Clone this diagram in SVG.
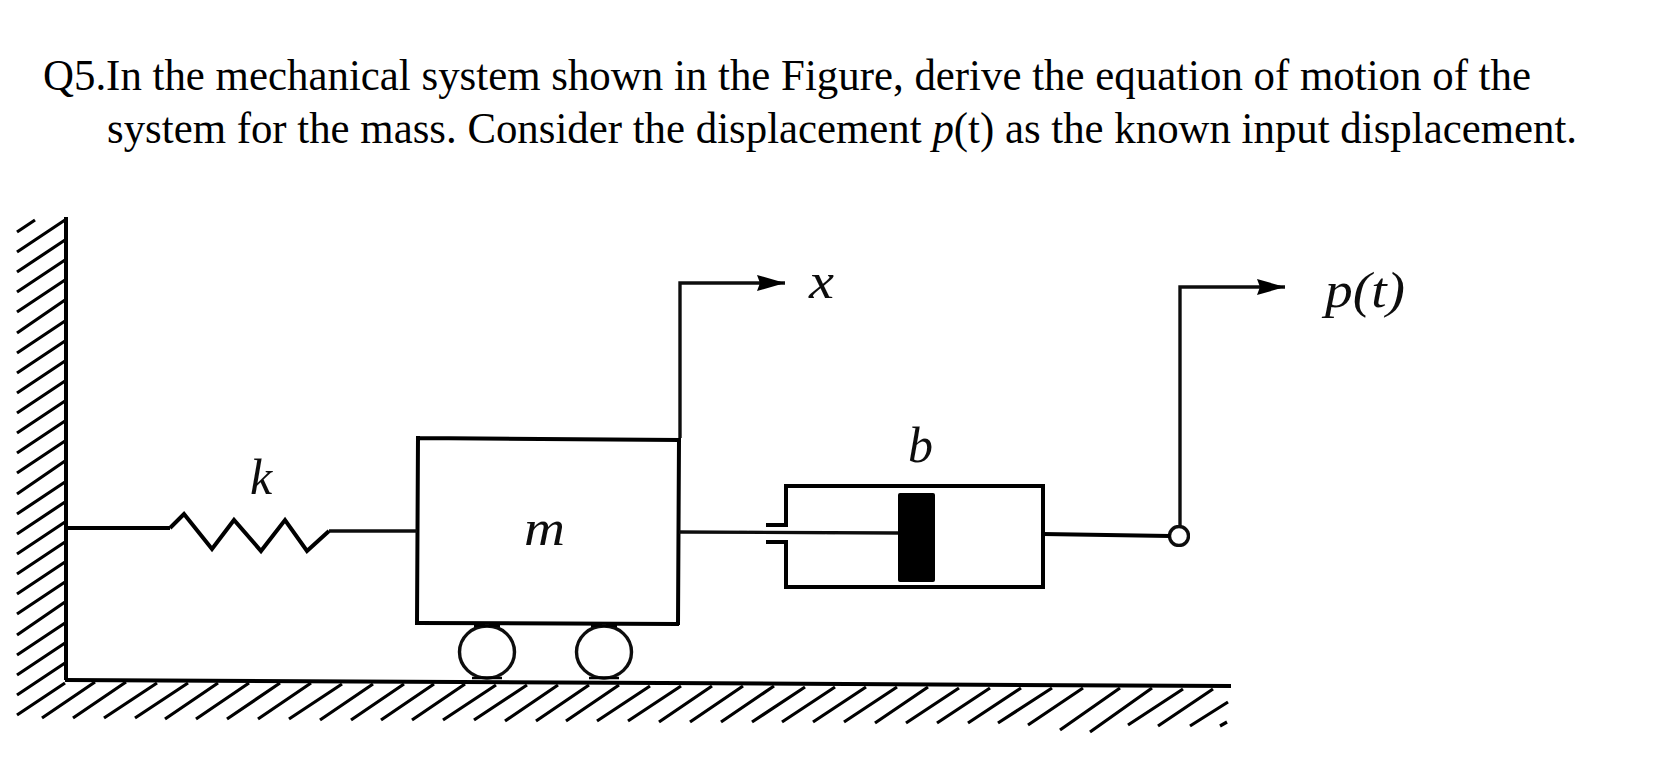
<svg xmlns="http://www.w3.org/2000/svg" width="1675" height="766" viewBox="0 0 1675 766">
<style>
.q{font-family:"Liberation Serif","Times New Roman",serif;font-size:44.5px;fill:#000}
.l{font-family:"Liberation Serif","Times New Roman",serif;font-size:50px;font-style:italic;fill:#111}
.s{fill:none;stroke:#000;stroke-width:4;stroke-linejoin:miter}
.t{fill:none;stroke:#111;stroke-width:3.4}
.h{fill:none;stroke:#000;stroke-width:3.2}
.f{filter:url(#soft)}
.stub{fill:none;stroke:#000;stroke-width:2.6}
</style>
<defs>
<filter id="soft" x="-5%" y="-5%" width="110%" height="110%"><feGaussianBlur stdDeviation="0.6"/></filter>
<marker id="arrow" markerUnits="userSpaceOnUse" markerWidth="32" markerHeight="18" refX="28" refY="8" orient="auto" overflow="visible">
<path d="M0 0L28 8L0 16L3 8Z" fill="#000"/>
</marker>
</defs>
<rect width="1675" height="766" fill="#fff"/>
<g id="question">
<text class="q" x="43" y="90" textLength="1488" lengthAdjust="spacingAndGlyphs">Q5.In the mechanical system shown in the Figure, derive the equation of motion of the</text>
<text class="q" x="107" y="143" textLength="1470" lengthAdjust="spacingAndGlyphs">system for the mass. Consider the displacement <tspan font-style="italic">p</tspan>(t) as the known input displacement.</text>
</g>
<g id="wall" class="f">
<path class="s" d="M66 217V680"/>
<path class="h" d="M35 220L17 232M65 220L17 252M65 240L17 272M65 260L17 292M65 280L17 312M65 300L17 333M65 321L17 353M65 341L17 373M65 361L17 393M65 381L17 413M65 401L17 433M65 421L17 453M65 441L17 473M65 461L17 494M65 482L17 514M65 502L17 534M65 522L17 554M65 542L17 574M65 562L17 594M65 582L17 614M65 602L17 635M65 623L17 655M65 643L17 675M65 663L17 695M65 683L17 715"/>
</g>
<g id="ground" class="f">
<path class="s" d="M65 680L1231 686"/>
<path class="h" d="M95 682L42 718M126 682L73 718M157 683L104 718M188 683L135 718M218 683L165 719M249 683L196 719M280 683L227 719M311 683L258 719M342 684L289 719M373 684L320 720M404 684L351 720M434 684L381 720M465 684L412 720M496 685L443 720M527 685L474 720M558 685L505 721M589 685L536 721M619 685L566 721M650 686L597 721M681 686L628 721M712 686L659 722M743 686L690 722M774 686L721 722M805 687L752 722M835 687L782 722M866 687L813 722M897 687L844 722M928 687L875 723M959 688L906 723M990 688L937 723M1021 688L968 723M1052 688L998 723M1083 688L1028 725M1120 688L1060 730M1152 688L1090 732M1183 689L1128 725M1213 689L1158 726M1228 702L1190 726M1227 722L1220 726"/>
</g>
<g id="mass" class="f">
<path class="s" d="M417 438L680 440M418 436L417 624M415 623L679 624M679 438L678 625"/>
<text class="l" x="524" y="545" textLength="41" lengthAdjust="spacingAndGlyphs">m</text>
</g>
<g id="wheels" class="f">
<ellipse class="t" cx="487" cy="652" rx="27.5" ry="26"/>
<ellipse class="t" cx="604" cy="652" rx="27.5" ry="26"/>
<path class="stub" d="M474 626H500M591 626H617M472 678H502M589 678H619"/>
</g>
<g id="spring" class="f">
<path class="s" d="M170 528L184 514L212 549L234 520L261 551L285 520L307 551L329 531"/>
<text class="l" x="250" y="494">k</text>
</g>
<g id="damper" class="f">
<path class="s" d="M766 525H786V486H1043V587H786V542H766"/>
<rect x="898" y="493" width="37" height="89" rx="2" fill="#000"/>
<text class="l" x="908" y="462">b</text>
</g>
<g id="input-node" class="f">
<circle cx="1179" cy="536" r="9.5" fill="#fff" stroke="#111" stroke-width="3.4"/>
</g>
<g id="connectors" class="f">
<path class="s" d="M65 528H170"/>
<path class="t" d="M329 531H417"/>
<path class="t" d="M679 532L898 533"/>
<path class="s" d="M1043 534L1170 536"/>
<path class="t" d="M680 438V283H785" marker-end="url(#arrow)"/>
<path class="t" d="M1180 527V287H1285" marker-end="url(#arrow)"/>
</g>
<g id="labels" class="f">
<text class="l" x="809" y="298" textLength="25" lengthAdjust="spacingAndGlyphs">x</text>
<text class="l" x="1325" y="307" textLength="80" lengthAdjust="spacingAndGlyphs">p(t)</text>
</g>
</svg>
